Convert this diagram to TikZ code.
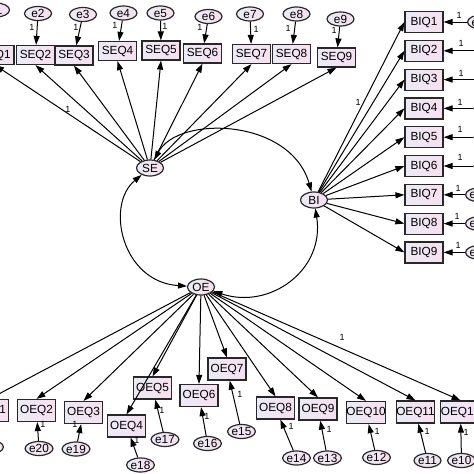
\documentclass[tikz,border=0pt]{standalone}
\usepackage{fontspec}
\setmainfont{Liberation Sans}
\usetikzlibrary{arrows.meta,shapes.geometric}
\definecolor{fillL}{RGB}{236,234,246}
\definecolor{fillR}{RGB}{246,224,240}
\definecolor{edgec}{RGB}{40,40,40}
\begin{document}
\begin{tikzpicture}[x=1pt,y=-1pt,
  obs/.style={rectangle, draw=edgec, line width=1.2pt, left color=fillL, right color=fillR,
    minimum width=38pt, minimum height=20pt, inner sep=0pt, font=\fontsize{11.8}{13}\selectfont},
  lat/.style={ellipse, draw=edgec, line width=1.2pt, left color=fillL, right color=fillR,
    minimum width=27pt, minimum height=16pt, inner sep=0pt, font=\fontsize{11.8}{13}\selectfont},
  err/.style={lat, minimum height=14pt},
  lab/.style={font=\fontsize{9}{10}\selectfont, inner sep=0pt},
  arr/.style={line width=1pt, draw=black, -{Triangle[length=9pt,width=6pt]}},
  cov/.style={line width=1pt, draw=black, {Triangle[length=9pt,width=6pt]}-{Triangle[length=9pt,width=6pt]}}
]
\path[use as bounding box, fill=white] (0,0) rectangle (474,474);

% latent variables
\node[lat] (SE) at (150,168) {SE};
\node[lat] (BI) at (314,200) {BI};
\node[lat] (OE) at (201,287) {OE};

% SE indicators
\foreach \k/\x/\y/\ex/\ey in {1/-5/55/-4/10, 2/35.5/55/38/13.5, 3/74/55.5/83/14.5,
  4/117.5/51/123.5/13, 5/161/50.5/160.5/13, 6/202.5/53.5/208.5/16.5,
  7/251.5/54/250/14, 8/291.5/54/296.5/14, 9/336.5/57.5/340.5/19}{
  \node[obs, minimum height=19pt] (SEQ\k) at (\x,\y) {SEQ\k};
  \node[err] (e\k) at (\ex,\ey) {e\k};
}

% BI indicators
\foreach \k/\ex in {1/481.5, 2/492, 3/492, 4/488, 5/488, 6/488, 7/479.5, 8/479.5, 9/479.5}{
  \pgfmathtruncatemacro{\en}{21+\k}
  \node[obs, minimum height=21pt] (BIQ\k) at (424,{22+(\k-1)*28.8}) {BIQ\k};
  \node[err] (e\en) at (\ex,{22+(\k-1)*28.8}) {e\en};
}

% OE indicators
\foreach \k/\x/\y/\ex/\ey in {1/-10.5/410.5/-10.5/447, 2/36.5/410.5/39/448.5, 3/83.5/412.5/76/449,
  4/126.5/426/140.5/465, 5/152.5/388/165/439.5, 6/199/395.5/207.5/443.5,
  7/227/369/241.5/431.5, 8/275.5/408/296.5/458, 9/318/409/327.5/458,
  10/366/412.5/376.5/457.5, 11/415.5/412/427.5/460.5, 12/460.5/412/461.5/460.5}{
  \pgfmathtruncatemacro{\en}{22-\k}
  \node[obs, minimum height=22pt] (OEQ\k) at (\x,\y) {OEQ\k};
  \node[err] (e\en) at (\ex,\ey) {e\en};
}

% loadings
\foreach \k in {1,...,9}{
  \draw[arr] (SE) -- (SEQ\k.south);
  \draw[arr] (e\k) -- (SEQ\k);
}
\foreach \k in {1,...,9}{
  \pgfmathtruncatemacro{\en}{21+\k}
  \draw[arr] (BI) -- (BIQ\k.west);
  \draw[arr] (e\en) -- (BIQ\k);
}
\foreach \k in {1,...,12}{
  \pgfmathtruncatemacro{\en}{22-\k}
  \draw[arr] (OE) -- (OEQ\k.north);
  \draw[arr] (e\en) -- (OEQ\k);
}

% covariances
\draw[cov] (SE) .. controls (105,205) and (122,282) .. (OE);
\draw[cov] (SE) .. controls (178,115) and (290,118) .. (BI);
\draw[cov] (OE) .. controls (270,310) and (325,270) .. (BI);

% labels
\node[lab] (l1) at (68,109) {1};
\node[lab] (l2) at (358,102) {1};
\node[lab] (l3) at (342,337) {1};
\foreach \i/\x/\y in {a/32/27, b/76/27, c/115/25, d/165/26, e/200/27, f/256/29, g/288/28, h/334/30,
  i/459/15, j/461/43, k/461/73, l/460/102, m/460/129, n/460/157, o/458/188, p/457/216, q/458/245,
  r/43/424, s/75/424, t/137/440, u/162/410, v/207/416, w/240/394, x/291/426, y/329/429,
  z/377/431, aa/427/431, ab/466/432}{
  \node[lab] (m\i) at (\x,\y) {1};
}
\end{tikzpicture}
\end{document}
